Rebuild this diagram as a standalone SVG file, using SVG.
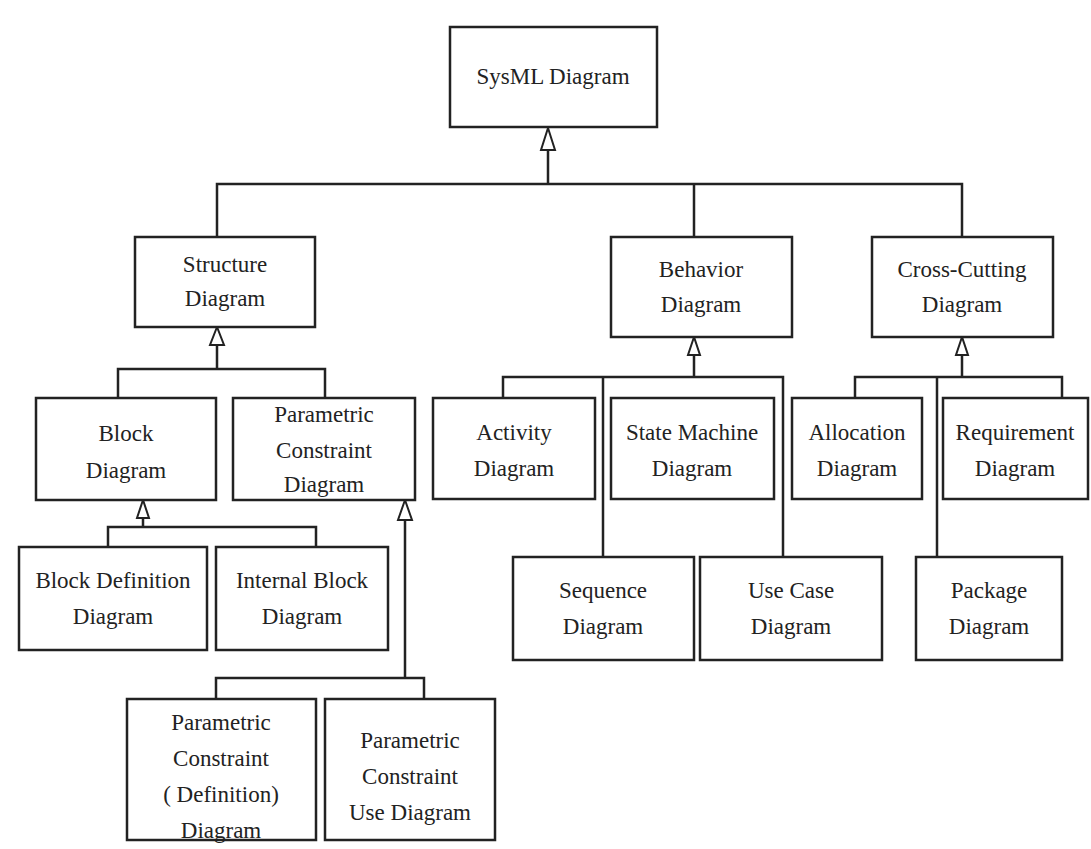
<svg xmlns="http://www.w3.org/2000/svg" width="1091" height="849" viewBox="0 0 1091 849">
<style>
rect{fill:#fff;stroke:#222;stroke-width:2.5}
text{font-family:"Liberation Serif","Times New Roman",serif;font-size:23px;fill:#222;text-anchor:middle}
.c{fill:none;stroke:#222;stroke-width:2.5}
.t{fill:#fff;stroke:#222;stroke-width:2}
</style>
<g id="connectors">
<path class="c" d="M548 150V184M217 237V184H962V237M694 184V237"/>
<polygon class="t" points="548,128 541,150 555,150"/>
<path class="c" d="M217 345V369M118 398V369H325V398"/>
<polygon class="t" points="217,327 210,345 224,345"/>
<path class="c" d="M143 518V527M108 547V527H316V547"/>
<polygon class="t" points="143,500 137,518 149,518"/>
<path class="c" d="M405 520V678M216 699V678H424V699"/>
<polygon class="t" points="405,500 398,520 412,520"/>
<path class="c" d="M694 355V377M503 398V377H783V557M603 377V557"/>
<polygon class="t" points="694,337 688,355 700,355"/>
<path class="c" d="M962 355V377M855 398V377H1062V398M937 377V557"/>
<polygon class="t" points="962,337 956,355 968,355"/>
</g>
<g id="sysml"><rect x="450" y="27" width="207" height="100"/><text x="553" y="84">SysML Diagram</text></g>
<g id="structure"><rect x="135" y="237" width="180" height="90"/><text x="225" y="272">Structure</text><text x="225" y="306">Diagram</text></g>
<g id="behavior"><rect x="611" y="237" width="181" height="100"/><text x="701" y="277">Behavior</text><text x="701" y="312">Diagram</text></g>
<g id="crosscutting"><rect x="872" y="237" width="181" height="100"/><text x="962" y="277">Cross-Cutting</text><text x="962" y="312">Diagram</text></g>
<g id="block"><rect x="36" y="398" width="180" height="102"/><text x="126" y="441">Block</text><text x="126" y="478">Diagram</text></g>
<g id="parametric"><rect x="233" y="398" width="182" height="102"/><text x="324" y="422">Parametric</text><text x="324" y="458">Constraint</text><text x="324" y="492">Diagram</text></g>
<g id="blockdef"><rect x="19" y="547" width="188" height="103"/><text x="113" y="588">Block Definition</text><text x="113" y="624">Diagram</text></g>
<g id="internalblock"><rect x="216" y="547" width="172" height="103"/><text x="302" y="588">Internal Block</text><text x="302" y="624">Diagram</text></g>
<g id="paramdef"><rect x="127" y="699" width="189" height="141"/><text x="221" y="730">Parametric</text><text x="221" y="766">Constraint</text><text x="221" y="802">( Definition)</text><text x="221" y="838">Diagram</text></g>
<g id="paramuse"><rect x="325" y="699" width="170" height="141"/><text x="410" y="748">Parametric</text><text x="410" y="784">Constraint</text><text x="410" y="820">Use Diagram</text></g>
<g id="activity"><rect x="433" y="398" width="162" height="101"/><text x="514" y="440">Activity</text><text x="514" y="476">Diagram</text></g>
<g id="statemachine"><rect x="611" y="398" width="163" height="101"/><text x="692" y="440">State Machine</text><text x="692" y="476">Diagram</text></g>
<g id="allocation"><rect x="792" y="398" width="130" height="101"/><text x="857" y="440">Allocation</text><text x="857" y="476">Diagram</text></g>
<g id="requirement"><rect x="943" y="398" width="145" height="101"/><text x="1015" y="440">Requirement</text><text x="1015" y="476">Diagram</text></g>
<g id="sequence"><rect x="513" y="557" width="181" height="103"/><text x="603" y="598">Sequence</text><text x="603" y="634">Diagram</text></g>
<g id="usecase"><rect x="700" y="557" width="182" height="103"/><text x="791" y="598">Use Case</text><text x="791" y="634">Diagram</text></g>
<g id="package"><rect x="916" y="557" width="146" height="103"/><text x="989" y="598">Package</text><text x="989" y="634">Diagram</text></g>
</svg>
